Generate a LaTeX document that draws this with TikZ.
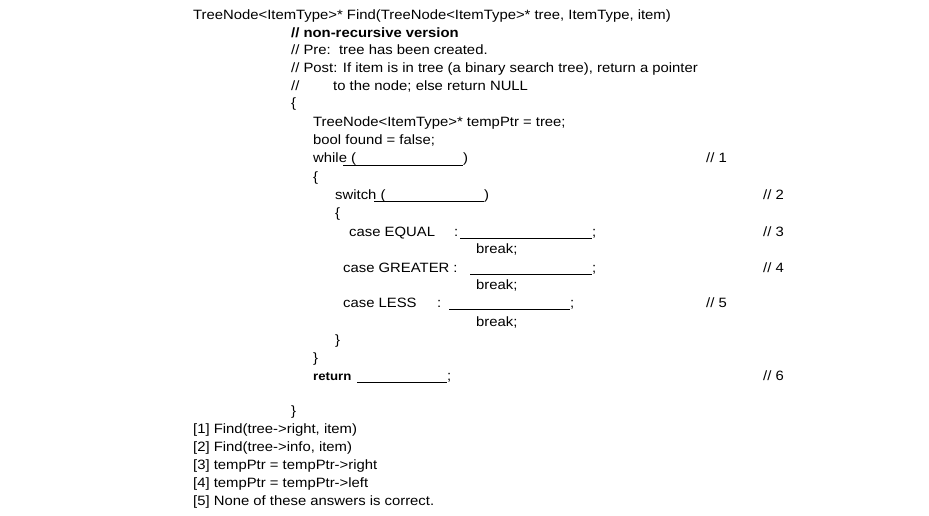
\documentclass[tikz,border=0pt]{standalone}
\usepackage{fontspec}
\setmainfont[FakeStretch=1.1]{Liberation Sans}
\begin{document}
\begin{tikzpicture}[x=1pt,y=-1pt,
  t/.style={anchor=base west,inner sep=0pt,font=\fontsize{13.5}{15}\selectfont},
  bl/.style={line width=0.7pt}]
\useasboundingbox[fill=white] (0,0) rectangle (929,516);
\node[t] (l1) at (193,20) {TreeNode<ItemType>* Find(TreeNode<ItemType>* tree, ItemType, item)};
\node[t,font=\fontsize{13.5}{15}\selectfont\bfseries] (l2) at (291,38) {// non-recursive version};
\node[t] (l3) at (291,55) {// Pre:\ \ tree has been created.};
\node[t] (l4) at (291,73) {// Post: If item is in tree (a binary search tree), return a pointer};
\node[t] (l5a) at (291,91) {//};
\node[t] (l5b) at (333,91) {to the node; else return NULL};
\node[t] (l6) at (291,108) {\{};
\node[t] (l7) at (313,127) {TreeNode<ItemType>* tempPtr = tree;};
\node[t] (l8) at (313,145) {bool found = false;};
\node[t] (l9) at (313,163) {while (};
\draw[bl] (343,165) -- (463,165);
\node[t] (l9e) at (463,163) {)};
\node[t] (c1) at (706,163) {// 1};
\node[t] (l10) at (313,181) {\{};
\node[t] (l11) at (335,199) {switch (};
\draw[bl] (374,201) -- (484,201);
\node[t] (l11e) at (484,199) {)};
\node[t] (c2) at (763,199) {// 2};
\node[t] (l12) at (335,217) {\{};
\node[t] (l13) at (349,236) {case EQUAL};
\node[t] (l13c) at (454,236) {:};
\draw[bl] (460,238) -- (592,238);
\node[t] (l13e) at (592,236) {;};
\node[t] (c3) at (763,236) {// 3};
\node[t] (b1) at (476,253) {break;};
\node[t] (l15) at (343,272) {case GREATER :};
\draw[bl] (470,274) -- (592,274);
\node[t] (l15e) at (592,272) {;};
\node[t] (c4) at (763,272) {// 4};
\node[t] (b2) at (476,289) {break;};
\node[t] (l17) at (343,307) {case LESS};
\node[t] (l17c) at (437,307) {:};
\draw[bl] (449,309) -- (570,309);
\node[t] (l17e) at (570,307) {;};
\node[t] (c5) at (706,307) {// 5};
\node[t] (b3) at (476,326) {break;};
\node[t] (l19) at (335,344) {\}};
\node[t] (l20) at (313,362) {\}};
\node[t,font=\fontsize{12}{14}\selectfont\bfseries] (l21) at (313,380) {return};
\draw[bl] (357,382) -- (447,382);
\node[t] (l21e) at (447,380) {;};
\node[t] (c6) at (763,380) {// 6};
\node[t] (l22) at (291,415) {\}};
\node[t] (a1) at (193,433) {[1] Find(tree->right, item)};
\node[t] (a2) at (193,451) {[2] Find(tree->info, item)};
\node[t] (a3) at (193,469) {[3] tempPtr = tempPtr->right};
\node[t] (a4) at (193,487) {[4] tempPtr = tempPtr->left};
\node[t] (a5) at (193,505) {[5] None of these answers is correct.};
\end{tikzpicture}
\end{document}
